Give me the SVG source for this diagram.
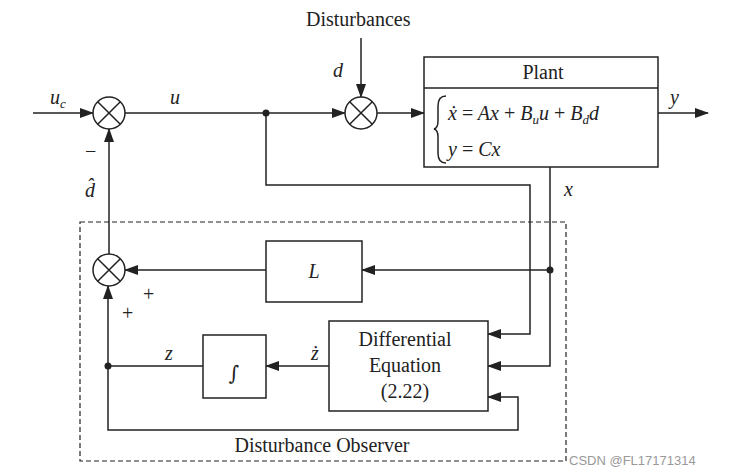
<svg xmlns="http://www.w3.org/2000/svg" width="740" height="475" viewBox="0 0 740 475">
<style>
.l{fill:none;stroke:#222;stroke-width:1.5}
.b{fill:#fff;stroke:#222;stroke-width:1.5}
text{font-family:"Liberation Serif",serif;fill:#222;font-size:20px}
.i{font-style:italic}
</style>
<defs>
<marker id="a" markerWidth="14" markerHeight="10" refX="13" refY="5" orient="auto" markerUnits="userSpaceOnUse"><path d="M0,0L14,5L0,10Z" fill="#222"/></marker>
<g id="sx"><circle r="16" class="b"/><path d="M-11.3,-11.3L11.3,11.3M-11.3,11.3L11.3,-11.3" class="l"/></g>
</defs>
<rect x="0" y="0" width="740" height="475" fill="#fff"/>
<g id="connectors">
<path class="l" d="M33,113H93" marker-end="url(#a)"/>
<path class="l" d="M125,113H266M266,113H345" marker-end="url(#a)"/>
<path class="l" d="M361,38V97" marker-end="url(#a)"/>
<path class="l" d="M377,113H424" marker-end="url(#a)"/>
<path class="l" d="M658,113H708" marker-end="url(#a)"/>
<path class="l" d="M266,113V185H530V334H488" marker-end="url(#a)"/>
<path class="l" d="M550,167V366H488" marker-end="url(#a)"/>
<path class="l" d="M550,270H362" marker-end="url(#a)"/>
<path class="l" d="M266,270H125" marker-end="url(#a)"/>
<path class="l" d="M329,366H266" marker-end="url(#a)"/>
<path class="l" d="M203,366H108V430H518V397H488" marker-end="url(#a)"/>
<path class="l" d="M108,366V286" marker-end="url(#a)"/>
<path class="l" d="M109,254V129" marker-end="url(#a)"/>
<circle cx="266" cy="113" r="3.5" fill="#222"/>
<circle cx="550" cy="270" r="3.5" fill="#222"/>
<circle cx="108" cy="366" r="3.5" fill="#222"/>
</g>
<g id="sum1"><use href="#sx" x="109" y="113"/></g>
<g id="sum2"><use href="#sx" x="361" y="113"/></g>
<g id="sum3"><use href="#sx" x="109" y="270"/></g>
<g id="plant">
<rect class="b" x="424" y="57" width="234" height="110"/>
<path class="l" d="M424,88H658"/>
<text x="543" y="79" text-anchor="middle">Plant</text>
<path class="l" d="M446,96Q438,96 438,106V121Q438,128 434,129Q438,130 438,137V153Q438,163 446,163" stroke-width="1"/>
<text x="448" y="120" class="i">ẋ <tspan font-style="normal">=</tspan> Ax <tspan font-style="normal">+</tspan> B<tspan font-size="13" dy="4">u</tspan><tspan dy="-4">u</tspan> <tspan font-style="normal">+</tspan> B<tspan font-size="13" dy="4">d</tspan><tspan dy="-4">d</tspan></text>
<text x="448" y="156" class="i">y <tspan font-style="normal">=</tspan> Cx</text>
</g>
<g id="L"><rect class="b" x="266" y="241" width="96" height="61"/><text x="314" y="278" text-anchor="middle" class="i">L</text></g>
<g id="integ"><rect class="b" x="203" y="335" width="63" height="63"/><text x="234" y="380" text-anchor="middle" font-size="36" style="font-family:'DejaVu Serif',serif">∫</text></g>
<g id="diffeq"><rect class="b" x="329" y="321" width="159" height="90"/>
<text x="405" y="346" text-anchor="middle">Differential</text>
<text x="405" y="372" text-anchor="middle">Equation</text>
<text x="405" y="398" text-anchor="middle">(2.22)</text></g>
<g id="observer"><rect x="80" y="222" width="486" height="239" fill="none" stroke="#222" stroke-width="1.2" stroke-dasharray="5,3"/>
<text x="322" y="452" text-anchor="middle">Disturbance Observer</text></g>
<g id="labels">
<text x="50" y="104" class="i">u<tspan font-size="13" dy="4">c</tspan></text>
<text x="170" y="104" class="i">u</text>
<text x="306" y="26">Disturbances</text>
<text x="333" y="77" class="i">d</text>
<text x="670" y="104" class="i">y</text>
<text x="564" y="196" class="i">x</text>
<text x="85" y="158">−</text>
<text x="85" y="197" class="i">d̂</text>
<text x="143" y="301" font-size="16">+</text>
<text x="122" y="320" font-size="16">+</text>
<text x="165" y="360" class="i">z</text>
<text x="311" y="360" class="i">ż</text>
<text x="569" y="465" style="font-family:'Liberation Sans',sans-serif;fill:#999;font-size:13px">CSDN @FL17171314</text>
</g>
</svg>
